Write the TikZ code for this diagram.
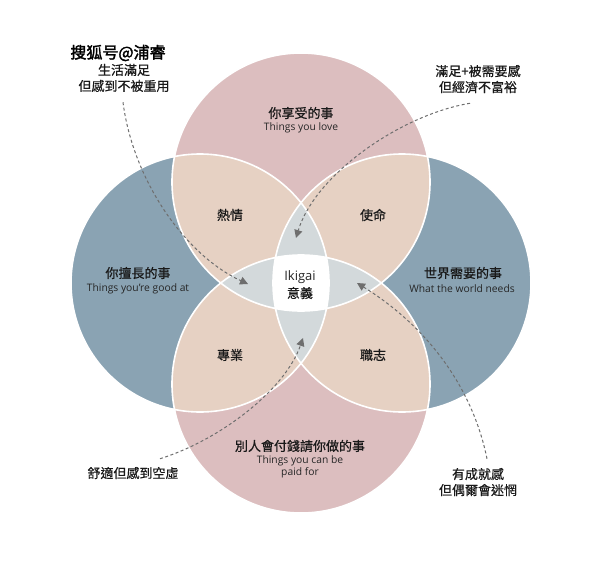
\documentclass[tikz,border=0pt]{standalone}
\usepackage{fontspec}
\setmainfont{Open Sans}
\newfontfamily\zhfont[FakeBold=0.6]{Noto Sans CJK TC}
\newfontfamily\zhmark[FakeBold=2]{Noto Sans CJK TC}
\usepackage{xcolor}
\usetikzlibrary{arrows.meta}

\definecolor{lovepink}{HTML}{DCBEBF}
\definecolor{skillblue}{HTML}{8AA3B3}
\definecolor{mixbeige}{HTML}{E6D1C3}
\definecolor{lensgray}{HTML}{D3D9DB}
\definecolor{hintgray}{HTML}{6E6E6E}

\begin{document}
\begin{tikzpicture}[x=1pt, y=-1pt,
      zh/.style={font=\zhfont\fontsize{13}{16}\selectfont, text=black!90,
                 inner sep=0pt, align=center},
      en/.style={font=\fontsize{10.3}{12}\selectfont, text=black!85,
                 inner sep=0pt, align=center},
      rim/.style={draw=white, line width=1.6pt},
      hint/.style={draw=hintgray, line width=1pt, dash pattern=on 3pt off 2.5pt},
      >={Triangle[length=8pt,width=8pt]}]
    \useasboundingbox (0,0) rectangle (600,571);

    % four circles
    \coordinate (ctop) at (301,182);
    \coordinate (cbot) at (301,384);
    \coordinate (cleft) at (200,283);
    \coordinate (cright) at (402,283);
    \def\rr{129pt}

    \fill[lovepink] (ctop) circle[radius=\rr] (cbot) circle[radius=\rr];
    \fill[skillblue] (cleft) circle[radius=\rr] (cright) circle[radius=\rr];

    % overlaps
    \begin{scope}
      \clip (ctop) circle[radius=\rr];
      \fill[mixbeige] (cleft) circle[radius=\rr] (cright) circle[radius=\rr];
    \end{scope}
    \begin{scope}
      \clip (cbot) circle[radius=\rr];
      \fill[mixbeige] (cleft) circle[radius=\rr] (cright) circle[radius=\rr];
    \end{scope}
    \begin{scope}
      \clip (ctop) circle[radius=\rr];
      \fill[lensgray] (cbot) circle[radius=\rr];
    \end{scope}
    \begin{scope}
      \clip (cleft) circle[radius=\rr];
      \fill[lensgray] (cright) circle[radius=\rr];
    \end{scope}
    \begin{scope}
      \clip (ctop) circle[radius=\rr];
      \clip (cbot) circle[radius=\rr];
      \clip (cleft) circle[radius=\rr];
      \fill[white] (cright) circle[radius=\rr];
    \end{scope}
    \draw[rim] (ctop) circle[radius=\rr] (cbot) circle[radius=\rr]
               (cleft) circle[radius=\rr] (cright) circle[radius=\rr];

    % circle labels
    \node[zh] (love) at (301,113) {你享受的事};
    \node[en] (loveen) at (301,128) {Things you love};
    \node[zh] (good) at (138,273) {你擅長的事};
    \node[en] (gooden) at (138,289) {Things you’re good at};
    \node[zh] (needs) at (463,273) {世界需要的事};
    \node[en] (needsen) at (462,289) {What the world needs};
    \node[zh] (paid) at (300,446) {別人會付錢請你做的事};
    \node[en] (paiden) at (300,467) {Things you can be\\paid for};

    % overlap labels
    \node[zh] (passion) at (230,215) {熱情};
    \node[zh] (mission) at (373,215) {使命};
    \node[zh] (profession) at (230,355) {專業};
    \node[zh] (vocation) at (373,355) {職志};
    \node[en, font=\fontsize{13}{14}\selectfont] (ikigai) at (300,277) {Ikigai};
    \node[zh] (meaning) at (300,293) {意義};

    % notes
    \node[zh, font=\zhmark\fontsize{16}{18}\selectfont, text=black] (mark) at (118,53)
      {搜狐号@浦睿};
    \node[zh] (satisfied) at (124,78) {生活滿足\\但感到不被重用};
    \node[zh] (needed) at (478,79) {滿足+被需要感\\但經濟不富裕};
    \node[zh] (empty) at (133,473) {舒適但感到空虛};
    \node[zh] (lost) at (478,482) {有成就感\\但偶爾會迷惘};

    % dashed hints
    \coordinate (tipgood) at (248,284);
    \coordinate (tiplove) at (296,238);
    \coordinate (tippaid) at (303,338);
    \coordinate (tipneeds) at (357,283);

    \draw[hint, ->] ([xshift=-1pt,yshift=-10pt]satisfied.south)
      .. controls (133,180) and (185,255) .. (tipgood);
    \draw[hint, ->] ([xshift=-8pt,yshift=-10pt]needed.south)
      .. controls (400,115) and (315,175) .. (tiplove);
    \draw[hint, ->] ([xshift=27pt,yshift=8pt]empty.north)
      .. controls (220,440) and (285,390) .. (tippaid);
    \draw[hint, ->] ([xshift=9pt,yshift=9pt]lost.north)
      .. controls (472,385) and (425,325) .. (tipneeds);
  \end{tikzpicture}
\end{document}
